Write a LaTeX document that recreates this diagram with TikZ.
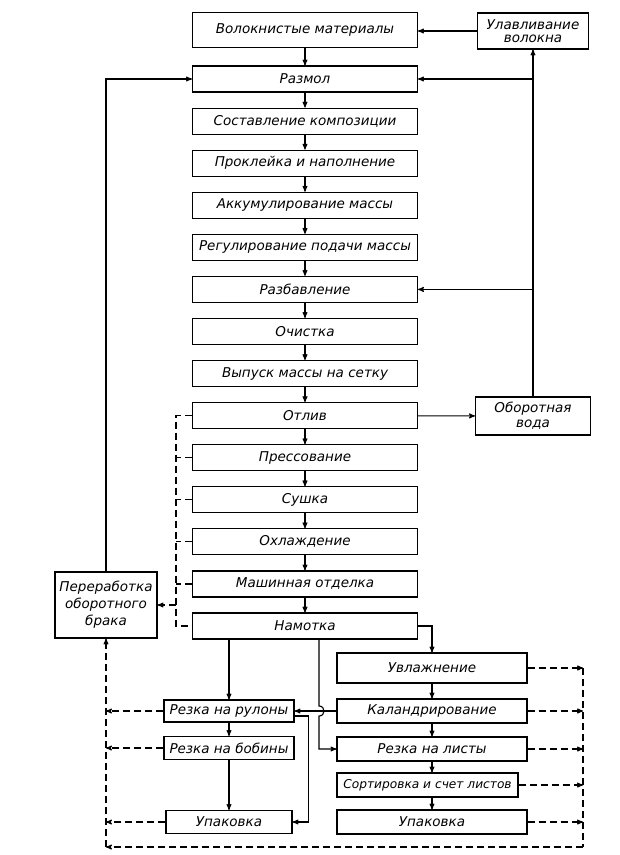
\documentclass[tikz,border=0pt]{standalone}
\usepackage{fontspec}
\setmainfont{DejaVu Sans}[ItalicFont={DejaVu Sans Oblique}]
\usetikzlibrary{%
  arrows,%
  calc% wg. ($...$)
}

\begin{document}
\begin{tikzpicture}
  [
  x=1pt, y=-1pt,
  font=\fontsize{13.5}{14}\selectfont\itshape, draw=black, >=stealth', line width=1.1pt,
  stage/.style={rectangle, minimum height=26pt, minimum width=225pt, inner sep=1pt, draw=black},
  side/.style={rectangle, minimum height=24pt, minimum width=190pt, inner sep=1pt, draw=black},
  cut/.style={rectangle, minimum height=23pt, minimum width=130pt, inner sep=1pt, draw=black},
  note/.style={rectangle, align=center, inner sep=1pt, draw=black},
  waste/.style={dash pattern=on 7pt off 4pt}
  ]

\useasboundingbox (0,0) rectangle (620,855);

\node[stage, minimum height=35pt] (s0) at (305,30) {Волокнистые материалы};
\foreach \i/\t in {1/Размол, 2/Составление композиции, 3/Проклейка и наполнение,
  4/Аккумулирование массы, 5/Регулирование подачи массы, 6/Разбавление,
  7/Очистка, 8/Выпуск массы на сетку, 9/Отлив, 10/Прессование, 11/Сушка,
  12/Охлаждение, 13/Машинная отделка, 14/Намотка} {
  \node[stage] (s\i) at (305,79+42.08*\i-42.08) {\t};
}
\foreach \i [count=\j from 1] in {0,...,13} {
  \draw[->] (s\i) -- (s\j);
}

\node[note, minimum width=111pt, minimum height=36pt, font=\fontsize{13.5}{12.5}\selectfont\itshape] (trap) at (533,31) {Улавливание\\волокна};
\node[note, minimum width=115pt, minimum height=38pt, font=\fontsize{13.5}{15}\selectfont\itshape] (water) at (533,416) {Оборотная\\вода};
\node[note, minimum width=102pt, minimum height=66pt, font=\fontsize{13.5}{17}\selectfont\itshape] (broke) at (106,605) {Переработка\\оборотного\\брака};

\node[side, minimum height=30pt] (wet) at (432,668) {Увлажнение};
\node[side] (cal) at (432,711) {Каландрирование};
\node[side] (sheets) at (432,749) {Резка на листы};
\node[side, minimum width=181pt, font=\fontsize{12.2}{13}\selectfont\itshape] (sort) at (427.5,785) {Сортировка и счет листов};
\node[side] (packR) at (432,822) {Упаковка};

\node[cut, minimum height=22pt] (rolls) at (229,711) {Резка на рулоны};
\node[cut] (bobbins) at (229,748) {Резка на бобины};
\node[cut, minimum width=126pt] (packL) at (229,822) {Упаковка};

\coordinate (coll) at (176,416);
\coordinate (jump) at (319,0);
\coordinate (retL) at (106,847);
\coordinate (retR) at (583,847);
\coordinate (jtop) at ($(jump |- cal)+(0,-5)$);
\coordinate (jbot) at ($(jump |- cal)+(0,5)$);

% water and fibre return
\draw[->] (trap.west) -- (trap.west -| s0.east);
\draw[->] (water.north) -- (trap.south);
\draw[->] (water.north |- s1) -- (s1.east);
\draw[->] (water.north |- s6) -- (s6.east);
\draw[->] (s9) -- (water);
\draw[->] (broke.north) |- (s1.west);

% broke from the machine
\draw[waste] (s9.west) -| (coll |- s14) -- (s14.west);
\foreach \i in {10,...,13} {
  \draw[waste] (s\i.west) -- (coll |- s\i);
}
\draw[waste,->] (coll |- broke) -- (broke.east);

% finishing
\draw[->] (s14.east) -| (wet.north);
\foreach \a/\b in {wet/cal, cal/sheets, sheets/sort, sort/packR} {
  \draw[->] (\a.south -| wet) -- (\b.north -| wet);
}
\draw[->] (rolls.north |- s14.south) -- (rolls.north);
\draw[->] (rolls) -- (bobbins);
\draw[->] (bobbins) -- (packL);
\draw[->] (cal.west) -- (rolls.east);
\draw[->] (s14.south -| jump) -- (jtop) .. controls ($(jtop)+(6.7,0)$) and ($(jbot)+(6.7,0)$) .. (jbot) |- (sheets.west);
\draw[->] ($(rolls.east)+(0,5)$) -- ++(14,0) |- (packL.east);

\foreach \n in {rolls, bobbins, packL} {
  \draw[waste,->] (\n.west) -- (\n.west -| retL);
}
\foreach \n in {wet, cal, sheets, sort, packR} {
  \draw[waste,->] (\n.east) -- (\n.east -| retR);
}
\draw[waste] (wet -| retR) -- (retR);
\draw[waste,->] (retR) -- (retL);
\draw[waste,->] (retL) -- (broke.south);

\end{tikzpicture}
\end{document}
